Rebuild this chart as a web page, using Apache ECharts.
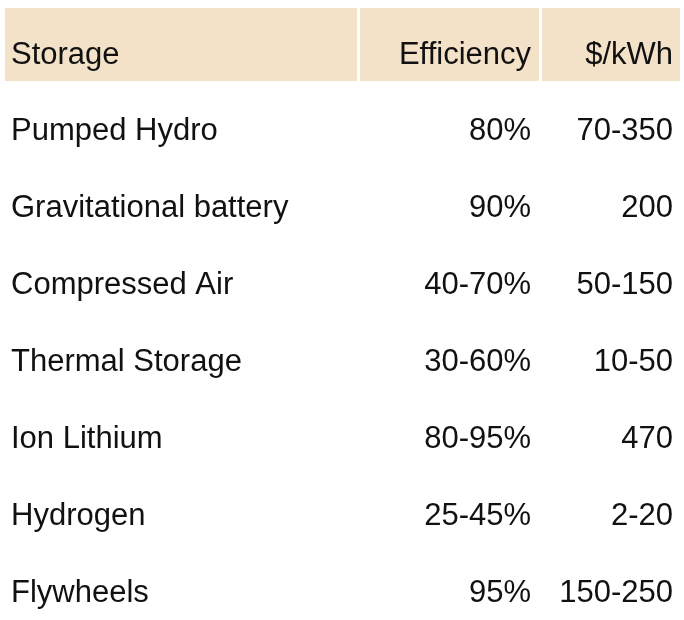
<!DOCTYPE html>
<html>
<head>
<meta charset="utf-8">
<script src="https://cdn.jsdelivr.net/npm/echarts@6/dist/echarts.min.js"></script>
<style>html,body{margin:0;padding:0;background:#fff}#main{width:684px;height:620px}</style>
</head>
<body>
<div id="main"></div>
<script>
// Table contents
var headers = ['Storage', 'Efficiency', '$/kWh'];
var storage = ['Pumped Hydro', 'Gravitational battery', 'Compressed Air', 'Thermal Storage', 'Ion Lithium', 'Hydrogen', 'Flywheels'];
var efficiency = ['80%', '90%', '40-70%', '30-60%', '80-95%', '25-45%', '95%'];
var costs = ['70-350', '200', '50-150', '10-50', '470', '2-20', '150-250'];

var chart = echarts.init(document.getElementById('main'));
var font = '31px "Liberation Sans", Helvetica, Arial, sans-serif';
var headerColor = '#f3e2c8';

// column geometry: [left, right] of header cells, text anchor
var cols = [
    {x0: 5, x1: 357, tx: 11, align: 'left'},
    {x0: 360, x1: 539, tx: 531, align: 'right'},
    {x0: 542, x1: 680, tx: 673, align: 'right'}
];

var elements = [];
cols.forEach(function (c, i) {
    elements.push({type: 'rect', shape: {x: c.x0, y: 8, width: c.x1 - c.x0, height: 73}, style: {fill: headerColor}});
    elements.push({type: 'text', x: c.tx, y: 55, style: {text: headers[i], font: font, fill: '#111', align: c.align, verticalAlign: 'middle'}});
});

storage.forEach(function (name, r) {
    var y = 131 + r * 77;
    var row = [name, efficiency[r], costs[r]];
    cols.forEach(function (c, i) {
        elements.push({type: 'text', x: c.tx, y: y, style: {text: row[i], font: font, fill: '#111', align: c.align, verticalAlign: 'middle'}});
    });
});

chart.setOption({animation: false, graphic: {elements: elements}});
</script>
</body>
</html>
